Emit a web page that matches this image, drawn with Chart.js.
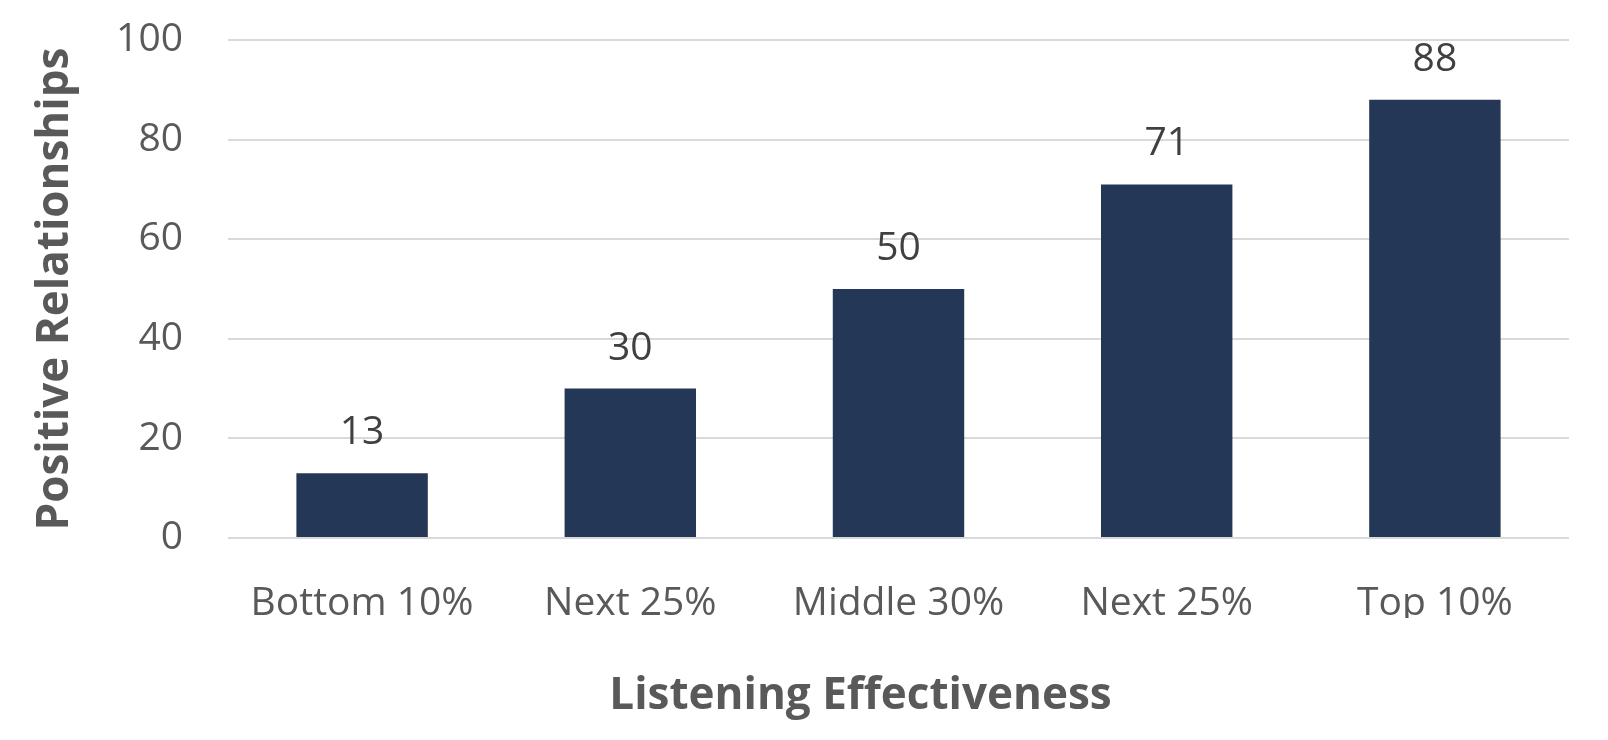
<!DOCTYPE html>
<html>
<head>
<meta charset="utf-8">
<script src="https://cdn.jsdelivr.net/npm/chart.js@4"></script>
<style>
  html, body { margin: 0; padding: 0; background: #ffffff; }
  #wrap { width: 1608px; height: 740px; }
</style>
</head>
<body>
<div id="wrap"><canvas id="chart"></canvas></div>
<script>
const categories = ['Bottom 10%', 'Next 25%', 'Middle 30%', 'Next 25%', 'Top 10%'];
const values = [13, 30, 50, 71, 88];
const yTicks = [0, 20, 40, 60, 80, 100];
const xTitle = 'Listening Effectiveness';
const yTitle = 'Positive Relationships';

const FONT = "'Open Sans', sans-serif";

// value labels above each bar
const barLabels = {
  id: 'barLabels',
  afterDatasetsDraw(chart) {
    const ctx = chart.ctx;
    const meta = chart.getDatasetMeta(0);
    ctx.save();
    ctx.font = '39px ' + FONT;
    ctx.fillStyle = '#404040';
    ctx.textAlign = 'center';
    ctx.textBaseline = 'alphabetic';
    meta.data.forEach((bar, i) => {
      ctx.fillText(String(values[i]), bar.x, bar.y - 29);
    });
    ctx.restore();
  }
};

// x axis title, sits a little left of the plot centre like the original
const xAxisTitle = {
  id: 'xAxisTitle',
  afterDraw(chart) {
    const ctx = chart.ctx;
    const area = chart.chartArea;
    ctx.save();
    ctx.font = 'bold 44px ' + FONT;
    ctx.fillStyle = '#595959';
    ctx.textAlign = 'center';
    ctx.textBaseline = 'middle';
    ctx.fillText(xTitle, (area.left + area.right) / 2 - 38, area.bottom + 158);
    ctx.restore();
  }
};

new Chart(document.getElementById('chart').getContext('2d'), {
  type: 'bar',
  data: {
    labels: categories,
    datasets: [
      {
        data: values,
        backgroundColor: '#253756',
        borderWidth: 0,
        categoryPercentage: 1,
        barPercentage: 0.49
      }
    ]
  },
  options: {
    responsive: true,
    maintainAspectRatio: false,
    animation: false,
    layout: {
      padding: { top: 40, right: 39, bottom: 122, left: 0 }
    },
    scales: {
      x: {
        grid: { display: false },
        border: { display: false },
        afterFit: (scale) => {
          scale.height = 80;
          scale.paddingLeft = 0;
          scale.paddingRight = 0;
        },
        ticks: {
          color: '#595959',
          padding: 34,
          maxRotation: 0,
          font: { family: FONT, size: 39 }
        }
      },
      y: {
        min: yTicks[0],
        max: yTicks[yTicks.length - 1],
        afterFit: (scale) => {
          scale.width = 228;
          scale.paddingTop = 0;
          scale.paddingBottom = 0;
        },
        grid: {
          color: '#d9d9d9',
          lineWidth: 2,
          drawTicks: false
        },
        border: { display: false },
        ticks: {
          color: '#595959',
          padding: 45,
          stepSize: 20,
          font: { family: FONT, size: 39 }
        },
        title: {
          display: true,
          text: yTitle,
          color: '#595959',
          padding: { top: 29, bottom: 35 },
          font: { family: FONT, size: 44, weight: 'bold' }
        }
      }
    },
    plugins: {
      legend: { display: false },
      tooltip: { enabled: false }
    }
  },
  plugins: [barLabels, xAxisTitle]
});
</script>
</body>
</html>
